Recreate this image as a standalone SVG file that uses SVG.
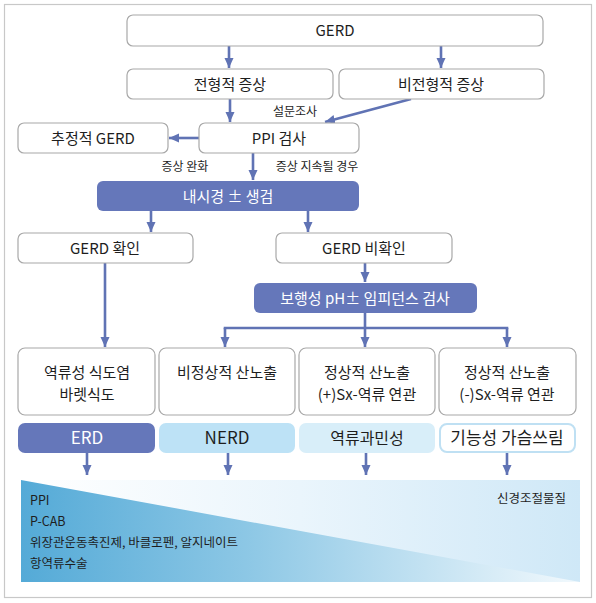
<svg xmlns="http://www.w3.org/2000/svg" width="596" height="603" viewBox="0 0 596 603">
<defs>
<style>
text{font-family:"Noto Sans CJK KR","Noto Sans",sans-serif;fill:#1e1e1e;}
.t{font-size:15px;text-anchor:middle;}
.w{fill:#fff;}
.s{font-size:12px;text-anchor:middle;}
.b{font-size:12.5px;}
.box{fill:#fff;stroke:#a8a8a8;stroke-width:1.2;}
.fill{fill:#6577ba;stroke:none;}
.con{stroke:#6073b4;stroke-width:2.6;fill:none;}
</style>
<marker id="ah" markerUnits="userSpaceOnUse" markerWidth="10" markerHeight="10" viewBox="0 0 10 10" refX="10" refY="5" orient="auto">
<path d="M0,0.5 L10,5 L0,9.5 Z" fill="#6073b4"/>
</marker>
<linearGradient id="gUp" x1="0" y1="0" x2="1" y2="0">
<stop offset="0" stop-color="#ffffff"/>
<stop offset="0.5" stop-color="#eaf5fc"/>
<stop offset="1" stop-color="#cfe8f7"/>
</linearGradient>
<linearGradient id="gLow" x1="0" y1="0" x2="1" y2="0">
<stop offset="0" stop-color="#54aad7"/>
<stop offset="0.4" stop-color="#8cc7e5"/>
<stop offset="1" stop-color="#f2f9fd"/>
</linearGradient>
</defs>
<rect x="4.5" y="4.5" width="587" height="593" fill="#fff" stroke="#c8c8c8" stroke-width="1.2"/>

<g id="treatment">
<rect x="21" y="480" width="559" height="102" fill="url(#gUp)"/>
<polygon points="21,480 580,582 21,582" fill="url(#gLow)"/>
<text class="b" x="30" y="505">PPI</text>
<text class="b" x="30" y="526">P-CAB</text>
<text class="b" x="30" y="547">위장관운동촉진제, 바클로펜, 알지네이트</text>
<text class="b" x="30" y="568">항역류수술</text>
<text class="b" x="566" y="503" text-anchor="end">신경조절물질</text>
</g>

<g id="connectors">
<line class="con" x1="229" y1="46" x2="229" y2="68" marker-end="url(#ah)"/>
<line class="con" x1="441" y1="46" x2="441" y2="68" marker-end="url(#ah)"/>
<line class="con" x1="230" y1="99" x2="230" y2="122" marker-end="url(#ah)"/>
<line class="con" x1="411" y1="99" x2="325" y2="122" marker-end="url(#ah)"/>
<line class="con" x1="199" y1="138" x2="169" y2="138" marker-end="url(#ah)"/>
<line class="con" x1="253" y1="153" x2="253" y2="180" marker-end="url(#ah)"/>
<line class="con" x1="151" y1="211" x2="151" y2="232" marker-end="url(#ah)"/>
<line class="con" x1="308" y1="211" x2="308" y2="232" marker-end="url(#ah)"/>
<line class="con" x1="105" y1="263" x2="105" y2="347" marker-end="url(#ah)"/>
<line class="con" x1="365" y1="263" x2="365" y2="282" marker-end="url(#ah)"/>
<line class="con" x1="365" y1="313" x2="365" y2="328"/>
<line class="con" x1="223.7" y1="328" x2="508.3" y2="328"/>
<line class="con" x1="225" y1="328" x2="225" y2="347" marker-end="url(#ah)"/>
<line class="con" x1="365" y1="328" x2="365" y2="347" marker-end="url(#ah)"/>
<line class="con" x1="507" y1="328" x2="507" y2="347" marker-end="url(#ah)"/>
<line class="con" x1="87" y1="453" x2="87" y2="475" marker-end="url(#ah)"/>
<line class="con" x1="228" y1="453" x2="228" y2="475" marker-end="url(#ah)"/>
<line class="con" x1="366" y1="453" x2="366" y2="475" marker-end="url(#ah)"/>
<line class="con" x1="507" y1="453" x2="507" y2="475" marker-end="url(#ah)"/>
<text class="s" x="295" y="116">설문조사</text>
<text class="s" x="185" y="171">증상 완화</text>
<text class="s" x="317" y="171">증상 지속될 경우</text>
</g>

<g id="n-gerd"><rect class="box" x="127" y="15" width="416" height="31" rx="6"/><text class="t" x="335" y="36">GERD</text></g>
<g id="n-typical"><rect class="box" x="127" y="69" width="206" height="30" rx="6"/><text class="t" x="230" y="90">전형적 증상</text></g>
<g id="n-atypical"><rect class="box" x="339" y="69" width="205" height="30" rx="6"/><text class="t" x="441" y="90">비전형적 증상</text></g>
<g id="n-presumed"><rect class="box" x="18" y="123" width="150" height="30" rx="6"/><text class="t" x="93" y="144">추정적 GERD</text></g>
<g id="n-ppi"><rect class="box" x="199" y="123" width="160" height="30" rx="6"/><text class="t" x="279" y="144">PPI 검사</text></g>
<g id="n-endo"><rect class="fill" x="97" y="181" width="262" height="30" rx="6"/><text class="t w" x="228" y="202">내시경 ± 생검</text></g>
<g id="n-confirm"><rect class="box" x="18" y="233" width="175" height="30" rx="6"/><text class="t" x="105" y="254">GERD 확인</text></g>
<g id="n-notconfirm"><rect class="box" x="276" y="233" width="176" height="30" rx="6"/><text class="t" x="364" y="254">GERD 비확인</text></g>
<g id="n-ph"><rect class="fill" x="254" y="283" width="223" height="30" rx="6"/><text class="t w" x="365" y="304">보행성 pH± 임피던스 검사</text></g>

<g id="n-esoph"><rect class="box" x="18" y="348" width="137" height="67" rx="7"/><text class="t" x="87" y="378">역류성 식도염</text><text class="t" x="87" y="400">바렛식도</text></g>
<g id="n-abnormal"><rect class="box" x="159" y="348" width="136" height="67" rx="7"/><text class="t" x="227" y="378">비정상적 산노출</text></g>
<g id="n-normal-pos"><rect class="box" x="299" y="348" width="136" height="67" rx="7"/><text class="t" x="367" y="378">정상적 산노출</text><text class="t" x="367" y="400">(+)Sx-역류 연관</text></g>
<g id="n-normal-neg"><rect class="box" x="439" y="348" width="137" height="67" rx="7"/><text class="t" x="507" y="378">정상적 산노출</text><text class="t" x="507" y="400">(-)Sx-역류 연관</text></g>

<g id="n-erd"><rect x="18" y="423" width="137" height="30" rx="7" fill="#6577ba"/><text class="t w" x="87" y="444" style="font-size:17px">ERD</text></g>
<g id="n-nerd"><rect x="159" y="423" width="136" height="30" rx="7" fill="#bde2f6"/><text class="t" x="227" y="444" style="font-size:17px">NERD</text></g>
<g id="n-hyper"><rect x="299" y="423" width="136" height="30" rx="7" fill="#d8eef9"/><text class="t" x="367" y="444" style="font-size:16px">역류과민성</text></g>
<g id="n-func"><rect x="440" y="424" width="135" height="28" rx="7" fill="#fff" stroke="#bfe0f3" stroke-width="2"/><text class="t" x="507" y="444" style="font-size:17px">기능성 가슴쓰림</text></g>
</svg>
